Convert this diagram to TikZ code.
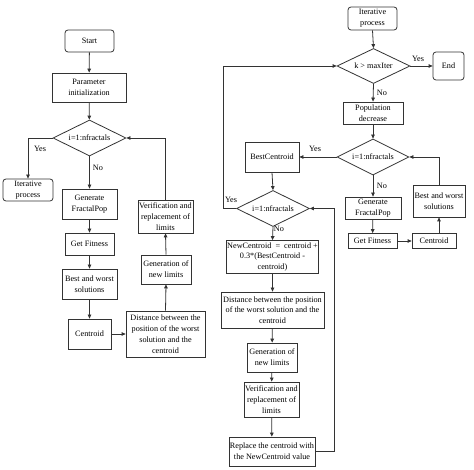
\documentclass[tikz,border=0pt]{standalone}
\usepackage{fontspec}
\setmainfont{Liberation Serif}
\usetikzlibrary{shapes.geometric,arrows.meta}
\newcommand\fsz{\fontsize{8.2}{10.8}\selectfont}
\begin{document}
\begin{tikzpicture}[x=1pt,y=-1pt,
  every node/.style={font=\fsz, text=black},
  box/.style={draw=black!80, line width=0.8pt, align=center, inner sep=0.8pt},
  rbox/.style={box, rounded corners=3pt},
  dia/.style={draw=black!80, line width=0.8pt, diamond, aspect=2, inner sep=0pt, minimum width=73pt, minimum height=36pt},
  arr/.style={draw=black!80, line width=0.8pt, -{Triangle[length=4pt,width=3.6pt]}},
  lbl/.style={font=\fsz, inner sep=0pt}]
\fill[white] (0,0) rectangle (474,470);
\useasboundingbox (0,0) rectangle (474,470);
% left flow
\node[rbox, minimum width=49pt, minimum height=22pt] (start) at (89.5,41) {Start};
\node[box, minimum width=74pt, minimum height=29pt] (param) at (89,87.5) {Parameter\\initialization};
\node[dia] (d1) at (89.5,138) {i=1:nfractals};
\node[rbox, minimum width=50pt, minimum height=22pt] (itL) at (28,190) {Iterative\\process};
\node[box, minimum width=55pt, minimum height=30pt] (gen1) at (89.5,204) {Generate\\FractalPop};
\node[box, minimum width=49pt, minimum height=22pt] (fit1) at (89.5,244) {Get Fitness};
\node[box, minimum width=55pt, minimum height=30pt] (bw1) at (89.5,284) {Best and worst\\solutions};
\node[box, minimum width=43pt, minimum height=30pt] (cen1) at (89.5,334) {Centroid};
\node[box, minimum width=79pt, minimum height=46pt] (dist1) at (165.5,334) {Distance between the\\position of the worst\\solution and the\\centroid};
\node[box, minimum width=50pt, minimum height=29pt] (newl1) at (166,269.5) {Generation of\\new limits};
\node[box, minimum width=55pt, minimum height=33pt] (ver1) at (165.5,216.5) {Verification and\\replacement of\\limits};
% right flow
\node[rbox, minimum width=49pt, minimum height=23pt] (itR) at (372.5,18.5) {Iterative\\process};
\node[dia, minimum height=35pt] (dk) at (373.5,66) {k > maxIter};
\node[rbox, minimum width=31pt, minimum height=28pt] (end) at (448.5,66) {End};
\node[box, minimum width=60pt, minimum height=22pt] (pop) at (373,113) {Population\\decrease};
\node[dia, minimum width=72pt] (d2) at (373,157) {i=1:nfractals};
\node[box, minimum width=54pt, minimum height=30pt] (bc) at (272,157) {BestCentroid};
\node[box, minimum width=56pt, minimum height=22pt] (gen2) at (373,208) {Generate\\FractalPop};
\node[box, minimum width=49pt, minimum height=15pt] (fit2) at (372.5,241) {Get Fitness};
\node[box, minimum width=44pt, minimum height=15pt] (cen2) at (434,241) {Centroid};
\node[box, minimum width=52pt, minimum height=32pt] (bw2) at (439,201) {Best and worst\\solutions};
\node[dia] (d3) at (273,208.5) {i=1:nfractals};
\node[box, minimum width=91pt, minimum height=33pt] (nc) at (272.5,257) {NewCentroid\ \ =\ \ centroid +\\0.3*(BestCentroid -\\centroid)};
\node[box, minimum width=103pt, minimum height=36pt] (dist2) at (272.5,310) {Distance between the position\\of the worst solution and the\\centroid};
\node[box, minimum width=50pt, minimum height=29pt] (newl2) at (272,357.5) {Generation of\\new limits};
\node[box, minimum width=55pt, minimum height=35pt] (ver2) at (271.5,399.5) {Verification and\\replacement of\\limits};
\node[box, minimum width=86pt, minimum height=29pt] (rep) at (272,451.5) {Replace the centroid with\\the NewCentroid value};
\coordinate (cl) at (223,0);
\coordinate (cr) at (334,0);
% left connectors
\draw[arr] (start) -- (param);
\draw[arr] (param) -- (d1);
\draw[arr] (d1.west) -| (itL.north);
\draw[arr] (d1.south) -- (gen1.north);
\draw[arr] (gen1) -- (fit1);
\draw[arr] (fit1) -- (bw1);
\draw[arr] (bw1) -- (cen1);
\draw[arr] (cen1) -- (dist1);
\draw[arr] (dist1.north) -- (newl1.south);
\draw[arr] (newl1.north) -- (ver1.south);
\draw[arr] (ver1.north) |- (d1.east);
% right connectors
\draw[arr] (itR.south) -- (dk.north);
\draw[arr] (dk.east) -- (end.west);
\draw[arr] (dk.south) -- (pop.north);
\draw[arr] (pop.south) -- (d2.north);
\draw[arr] (d2.west) -- (bc.east);
\draw[arr] (d2.south) -- (gen2.north);
\draw[arr] (gen2) -- (fit2);
\draw[arr] (fit2) -- (cen2);
\draw[arr] (cen2.north -| bw2) -- (bw2.south);
\draw[arr] (bw2.north) |- (d2.east);
\draw[arr] (bc.south) -- (d3.north);
\draw[arr] (d3.west) -- (d3.west -| cl) |- (dk.west);
\draw[arr] (d3.south) -- (nc.north);
\draw[arr] (nc) -- (dist2);
\draw[arr] (dist2) -- (newl2);
\draw[arr] (newl2) -- (ver2);
\draw[arr] (ver2) -- (rep);
\draw[arr] (rep.east) -- (rep.east -| cr) |- (d3.east);
% labels
\node[lbl] (y1) at (40,149) {Yes};
\node[lbl] (n1) at (98,168) {No};
\node[lbl] (y2) at (418,59) {Yes};
\node[lbl] (n2) at (382,93) {No};
\node[lbl] (y3) at (315,149) {Yes};
\node[lbl] (n3) at (382,186) {No};
\node[lbl] (y4) at (231,200) {Yes};
\node[lbl] (n4) at (279,229) {No};
\end{tikzpicture}
\end{document}
